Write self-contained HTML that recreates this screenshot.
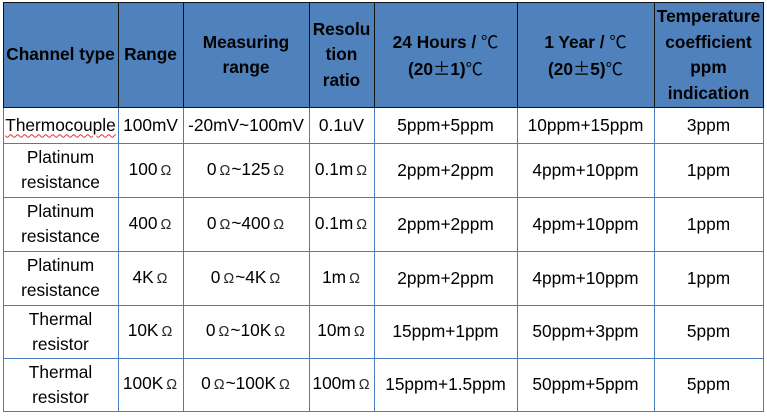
<!DOCTYPE html>
<html>
<head>
<meta charset="utf-8">
<style>
  html, body { margin:0; padding:0; background:#fff; }
  body { width:767px; height:416px; position:relative; overflow:hidden;
         font-family:"Liberation Sans", Arial, sans-serif; color:#000; }
  .hdrbg { position:absolute; left:3px; top:2px; width:760px; height:105px; background:#4f81bd; }
  .c { position:absolute; display:flex; align-items:center; justify-content:center;
       text-align:center; font-size:17.3px; line-height:25px; white-space:nowrap; }
  .h { font-weight:bold; line-height:25.5px; }
  .hl { position:absolute; height:1px; }
  .vl { position:absolute; width:1px; }
  .blue { background:#4a7ebb; }
  .blk { background:#111; }
  .om { font-size:14.5px; margin-left:3px; margin-right:1px; font-weight:normal; color:#2a2a2a; }
  .cj { font-family:"Noto Sans CJK SC", "WenQuanYi Zen Hei", sans-serif; font-weight:normal; }
  .sq { text-decoration:underline wavy #e03030; text-decoration-thickness:1px; text-underline-offset:3px; }
</style>
</head>
<body>
<div class="hdrbg"></div>

<!-- header cells -->
<div class="c h" style="left:3px;top:3px;width:115px;height:104px;">Channel type</div>
<div class="c h" style="left:118px;top:3px;width:65px;height:104px;">Range</div>
<div class="c h" style="left:183px;top:3px;width:126px;height:104px;">Measuring<br>range</div>
<div class="c h" style="left:309px;top:3px;width:65px;height:104px;">Resolu<br>tion<br>ratio</div>
<div class="c h" style="left:374px;top:3px;width:143px;height:104px;"><div>24 Hours / <span class="cj">℃</span><br>(20<span class="cj">±</span>1)<span class="cj">℃</span></div></div>
<div class="c h" style="left:517px;top:3px;width:137px;height:104px;"><div>1 Year / <span class="cj">℃</span><br>(20<span class="cj">±</span>5)<span class="cj">℃</span></div></div>
<div class="c h" style="left:654px;top:3px;width:109px;height:104px;">Temperature<br>coefficient<br>ppm<br>indication</div>

<!-- row 1 -->
<div class="c" style="left:3px;top:107px;width:115px;height:36px;"><span class="sq">Thermocouple</span></div>
<div class="c" style="left:118px;top:107px;width:65px;height:36px;">100mV</div>
<div class="c" style="left:183px;top:107px;width:126px;height:36px;">-20mV~100mV</div>
<div class="c" style="left:309px;top:107px;width:65px;height:36px;">0.1uV</div>
<div class="c" style="left:374px;top:107px;width:143px;height:36px;">5ppm+5ppm</div>
<div class="c" style="left:517px;top:107px;width:137px;height:36px;">10ppm+15ppm</div>
<div class="c" style="left:654px;top:107px;width:109px;height:36px;">3ppm</div>

<!-- row 2 -->
<div class="c" style="left:3px;top:143px;width:115px;height:54px;">Platinum<br>resistance</div>
<div class="c" style="left:118px;top:143px;width:65px;height:54px;"><div>100<span class="om">Ω</span></div></div>
<div class="c" style="left:183px;top:143px;width:126px;height:54px;"><div>0<span class="om">Ω</span>~125<span class="om">Ω</span></div></div>
<div class="c" style="left:309px;top:143px;width:65px;height:54px;"><div>0.1m<span class="om">Ω</span></div></div>
<div class="c" style="left:374px;top:143px;width:143px;height:54px;">2ppm+2ppm</div>
<div class="c" style="left:517px;top:143px;width:137px;height:54px;">4ppm+10ppm</div>
<div class="c" style="left:654px;top:143px;width:109px;height:54px;">1ppm</div>

<!-- row 3 -->
<div class="c" style="left:3px;top:197px;width:115px;height:54px;">Platinum<br>resistance</div>
<div class="c" style="left:118px;top:197px;width:65px;height:54px;"><div>400<span class="om">Ω</span></div></div>
<div class="c" style="left:183px;top:197px;width:126px;height:54px;"><div>0<span class="om">Ω</span>~400<span class="om">Ω</span></div></div>
<div class="c" style="left:309px;top:197px;width:65px;height:54px;"><div>0.1m<span class="om">Ω</span></div></div>
<div class="c" style="left:374px;top:197px;width:143px;height:54px;">2ppm+2ppm</div>
<div class="c" style="left:517px;top:197px;width:137px;height:54px;">4ppm+10ppm</div>
<div class="c" style="left:654px;top:197px;width:109px;height:54px;">1ppm</div>

<!-- row 4 -->
<div class="c" style="left:3px;top:251px;width:115px;height:54px;">Platinum<br>resistance</div>
<div class="c" style="left:118px;top:251px;width:65px;height:54px;"><div>4K<span class="om">Ω</span></div></div>
<div class="c" style="left:183px;top:251px;width:126px;height:54px;"><div>0<span class="om">Ω</span>~4K<span class="om">Ω</span></div></div>
<div class="c" style="left:309px;top:251px;width:65px;height:54px;"><div>1m<span class="om">Ω</span></div></div>
<div class="c" style="left:374px;top:251px;width:143px;height:54px;">2ppm+2ppm</div>
<div class="c" style="left:517px;top:251px;width:137px;height:54px;">4ppm+10ppm</div>
<div class="c" style="left:654px;top:251px;width:109px;height:54px;">1ppm</div>

<!-- row 5 -->
<div class="c" style="left:3px;top:305px;width:115px;height:53px;">Thermal<br>resistor</div>
<div class="c" style="left:118px;top:305px;width:65px;height:53px;"><div>10K<span class="om">Ω</span></div></div>
<div class="c" style="left:183px;top:305px;width:126px;height:53px;"><div>0<span class="om">Ω</span>~10K<span class="om">Ω</span></div></div>
<div class="c" style="left:309px;top:305px;width:65px;height:53px;"><div>10m<span class="om">Ω</span></div></div>
<div class="c" style="left:374px;top:305px;width:143px;height:53px;">15ppm+1ppm</div>
<div class="c" style="left:517px;top:305px;width:137px;height:53px;">50ppm+3ppm</div>
<div class="c" style="left:654px;top:305px;width:109px;height:53px;">5ppm</div>

<!-- row 6 -->
<div class="c" style="left:3px;top:358px;width:115px;height:53px;">Thermal<br>resistor</div>
<div class="c" style="left:118px;top:358px;width:65px;height:53px;"><div>100K<span class="om">Ω</span></div></div>
<div class="c" style="left:183px;top:358px;width:126px;height:53px;"><div>0<span class="om">Ω</span>~100K<span class="om">Ω</span></div></div>
<div class="c" style="left:309px;top:358px;width:65px;height:53px;"><div>100m<span class="om">Ω</span></div></div>
<div class="c" style="left:374px;top:358px;width:143px;height:53px;">15ppm+1.5ppm</div>
<div class="c" style="left:517px;top:358px;width:137px;height:53px;">50ppm+5ppm</div>
<div class="c" style="left:654px;top:358px;width:109px;height:53px;">5ppm</div>

<!-- body grid lines (blue) -->
<div class="hl blue" style="left:3px;top:143px;width:761px;"></div>
<div class="hl blue" style="left:3px;top:197px;width:761px;"></div>
<div class="hl blue" style="left:3px;top:251px;width:761px;"></div>
<div class="hl blue" style="left:3px;top:305px;width:761px;"></div>
<div class="hl blue" style="left:3px;top:358px;width:761px;"></div>
<div class="hl blue" style="left:3px;top:411px;width:761px;"></div>
<div class="vl blue" style="left:3px;top:107px;height:305px;"></div>
<div class="vl blue" style="left:118px;top:107px;height:305px;"></div>
<div class="vl blue" style="left:183px;top:107px;height:305px;"></div>
<div class="vl blue" style="left:309px;top:107px;height:305px;"></div>
<div class="vl blue" style="left:374px;top:107px;height:305px;"></div>
<div class="vl blue" style="left:517px;top:107px;height:305px;"></div>
<div class="vl blue" style="left:654px;top:107px;height:305px;"></div>
<div class="vl blue" style="left:763px;top:107px;height:305px;"></div>

<!-- header grid lines (black) -->
<div class="hl blk" style="left:3px;top:2px;width:761px;"></div>
<div class="hl blk" style="left:3px;top:107px;width:761px;"></div>
<div class="vl blk" style="left:3px;top:2px;height:106px;"></div>
<div class="vl blk" style="left:118px;top:2px;height:106px;"></div>
<div class="vl blk" style="left:183px;top:2px;height:106px;"></div>
<div class="vl blk" style="left:309px;top:2px;height:106px;"></div>
<div class="vl blk" style="left:374px;top:2px;height:106px;"></div>
<div class="vl blk" style="left:517px;top:2px;height:106px;"></div>
<div class="vl blk" style="left:654px;top:2px;height:106px;"></div>
<div class="vl blk" style="left:763px;top:2px;height:106px;"></div>
</body>
</html>
